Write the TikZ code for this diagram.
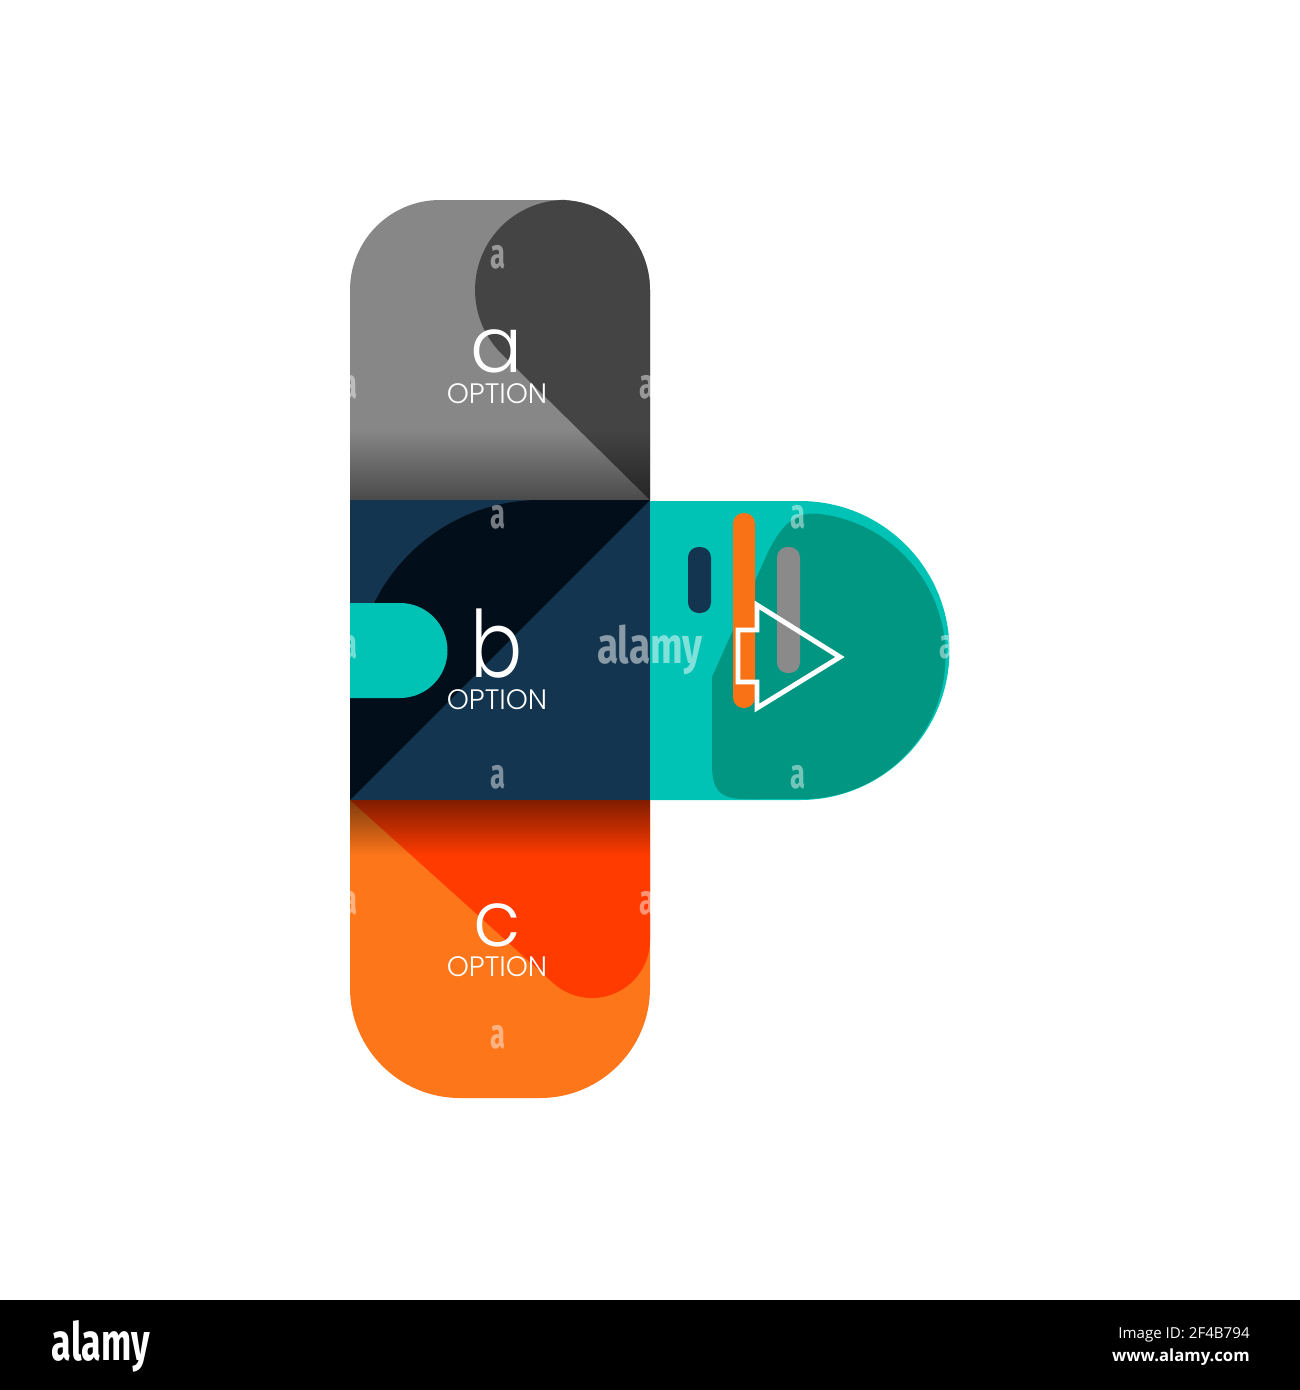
\documentclass[tikz,border=0pt]{standalone}
\usepackage{fontspec}
\usepackage{graphicx}
\usetikzlibrary{fadings}
\newfontfamily\optfont{Poppins Light}
\newfontfamily\markfont{Fira Sans}
\newfontfamily\barfont{Open Sans}

\definecolor{greylight}{HTML}{878787}
\definecolor{greydark}{HTML}{444444}
\definecolor{navy}{HTML}{143550}
\definecolor{navydark}{HTML}{030E1B}
\definecolor{teallight}{HTML}{00C3B6}
\definecolor{tealdark}{HTML}{009682}
\definecolor{orangelight}{HTML}{FD761A}
\definecolor{orangered}{HTML}{FF3B00}
\definecolor{barorange}{HTML}{F97316}
\definecolor{bargrey}{HTML}{8A8A8A}

\tikzfading[name=shadeup, top color=transparent!100, bottom color=transparent!55]
\tikzfading[name=shadedown, top color=transparent!50, bottom color=transparent!100]

\begin{document}
\begin{tikzpicture}[
        x=0.02cm, y=0.02cm,
        letter/.style={text=white, anchor=base, inner sep=0pt, font=\optfont\fontsize{44}{44}\selectfont},
        option/.style={text=white, anchor=base, inner sep=0pt, font=\optfont\fontsize{16}{16}\selectfont},
        wmark/.style={text=white, opacity=.45, inner sep=0pt, font=\markfont\bfseries\fontsize{24}{24}\selectfont},
        bar/.style={rounded corners=6pt}
    ]
        % Canvas
        \fill[white] (0,0) rectangle (1300,-1390);
        \useasboundingbox (0,0) rectangle (1300,-1390);

        % Block a
        \fill[greylight] (350,-500) -- (350,-290) arc[start angle=180, end angle=90, radius=90]
            -- (560,-200) arc[start angle=90, end angle=0, radius=90] -- (650,-500) -- cycle;
        \fill[greydark] (650,-500) -- (501.4,-353.6) arc[start angle=225, end angle=90, radius=90]
            -- (560,-200) arc[start angle=90, end angle=0, radius=90] -- cycle;
        \fill[black, path fading=shadeup] (350,-430) rectangle (650,-500);

        % Block b
        \fill[navy] (350,-500) rectangle (650,-800);
        \fill[navydark] (650,-500) -- (540,-500) arc[start angle=90, end angle=180, radius=185]
            -- (350,-685) -- (350,-800) -- cycle;
        \fill[teallight] (350,-603) -- (400,-603) arc[start angle=90, end angle=-90, radius=47.5]
            -- (350,-698) -- cycle;

        % Block c
        \fill[orangelight] (350,-800) -- (650,-800) -- (650,-988) arc[start angle=0, end angle=-90, radius=110]
            -- (460,-1098) arc[start angle=270, end angle=180, radius=110] -- cycle;
        \fill[orangered] (350,-800) -- (650,-800) -- (650,-940) arc[start angle=0, end angle=-135, radius=58] -- cycle;
        \fill[black, path fading=shadedown] (350,-800) rectangle (650,-855);

        % Play tab
        \fill[teallight] (650,-501) -- (800,-501) arc[start angle=90, end angle=-90, radius=149.5] -- (650,-800) -- cycle;
        \fill[tealdark] (712,-677) -- (768,-552) .. controls (785,-518) and (800,-513) .. (815,-513.5)
            arc[start angle=85, end angle=-90, radius=143] -- (745,-799)
            .. controls (720,-799) and (712,-790) .. (712,-765) -- cycle;
        \fill[navy, bar] (688,-547) rectangle (711,-613);
        \fill[barorange, bar] (733,-513) rectangle (755,-708);
        \fill[bargrey, bar] (777,-547) rectangle (800,-673);
        \draw[white, line width=2.8pt, line join=miter]
            (738,-630) -- (757,-630) -- (757,-605) -- (840,-657) -- (757,-708) -- (757,-682) -- (738,-682) -- cycle;

        % Labels
        \node[letter] (lettera) at (497,-372) {a};
        \node[option] (optiona) at (497,-403) {OPTION};
        \node[letter] (letterb) at (497,-677) {\scalebox{1}[1.2]{b}};
        \node[option] (optionb) at (497,-709) {OPTION};
        \node[letter] (letterc) at (497,-946) {c};
        \node[option] (optionc) at (497,-976) {OPTION};

        % Watermark
        \node[text=white, opacity=.5, anchor=base, inner sep=0pt, font=\markfont\bfseries\fontsize{29}{29}\selectfont]
            (alamymark) at (650,-663) {\scalebox{0.76}[1]{alamy}};
        \node[wmark] (wm1) at (498,-257) {\scalebox{0.65}[1]{a}};
        \node[wmark] (wm2) at (350,-387) {\scalebox{0.65}[1]{a}};
        \node[wmark] (wm3) at (647,-387) {\scalebox{0.65}[1]{a}};
        \node[wmark] (wm4) at (498,-517) {\scalebox{0.65}[1]{a}};
        \node[wmark] (wm5) at (798,-517) {\scalebox{0.65}[1]{a}};
        \node[wmark] (wm6) at (350,-647) {\scalebox{0.65}[1]{a}};
        \node[wmark] (wm7) at (947,-647) {\scalebox{0.65}[1]{a}};
        \node[wmark] (wm8) at (498,-777) {\scalebox{0.65}[1]{a}};
        \node[wmark] (wm9) at (798,-777) {\scalebox{0.65}[1]{a}};
        \node[wmark] (wm10) at (350,-903) {\scalebox{0.65}[1]{a}};
        \node[wmark] (wm11) at (647,-903) {\scalebox{0.65}[1]{a}};
        \node[wmark] (wm12) at (498,-1037) {\scalebox{0.65}[1]{a}};

        % Footer bar
        \fill[black] (0,-1300) rectangle (1300,-1390);
        \node[text=white, anchor=base, inner sep=0pt, font=\markfont\bfseries\fontsize{30}{30}\selectfont]
            (logo) at (101,-1360) {\scalebox{0.68}[1]{alamy}};
        \node[text=white, anchor=base east, inner sep=0pt, font=\barfont\fontsize{8.6}{9}\selectfont]
            (imageid) at (1250,-1338) {Image ID: 2F4B794};
        \node[text=white, anchor=base east, inner sep=0pt, font=\barfont\bfseries\fontsize{9.5}{10}\selectfont]
            (website) at (1250,-1361) {www.alamy.com};
    \end{tikzpicture}
\end{document}
